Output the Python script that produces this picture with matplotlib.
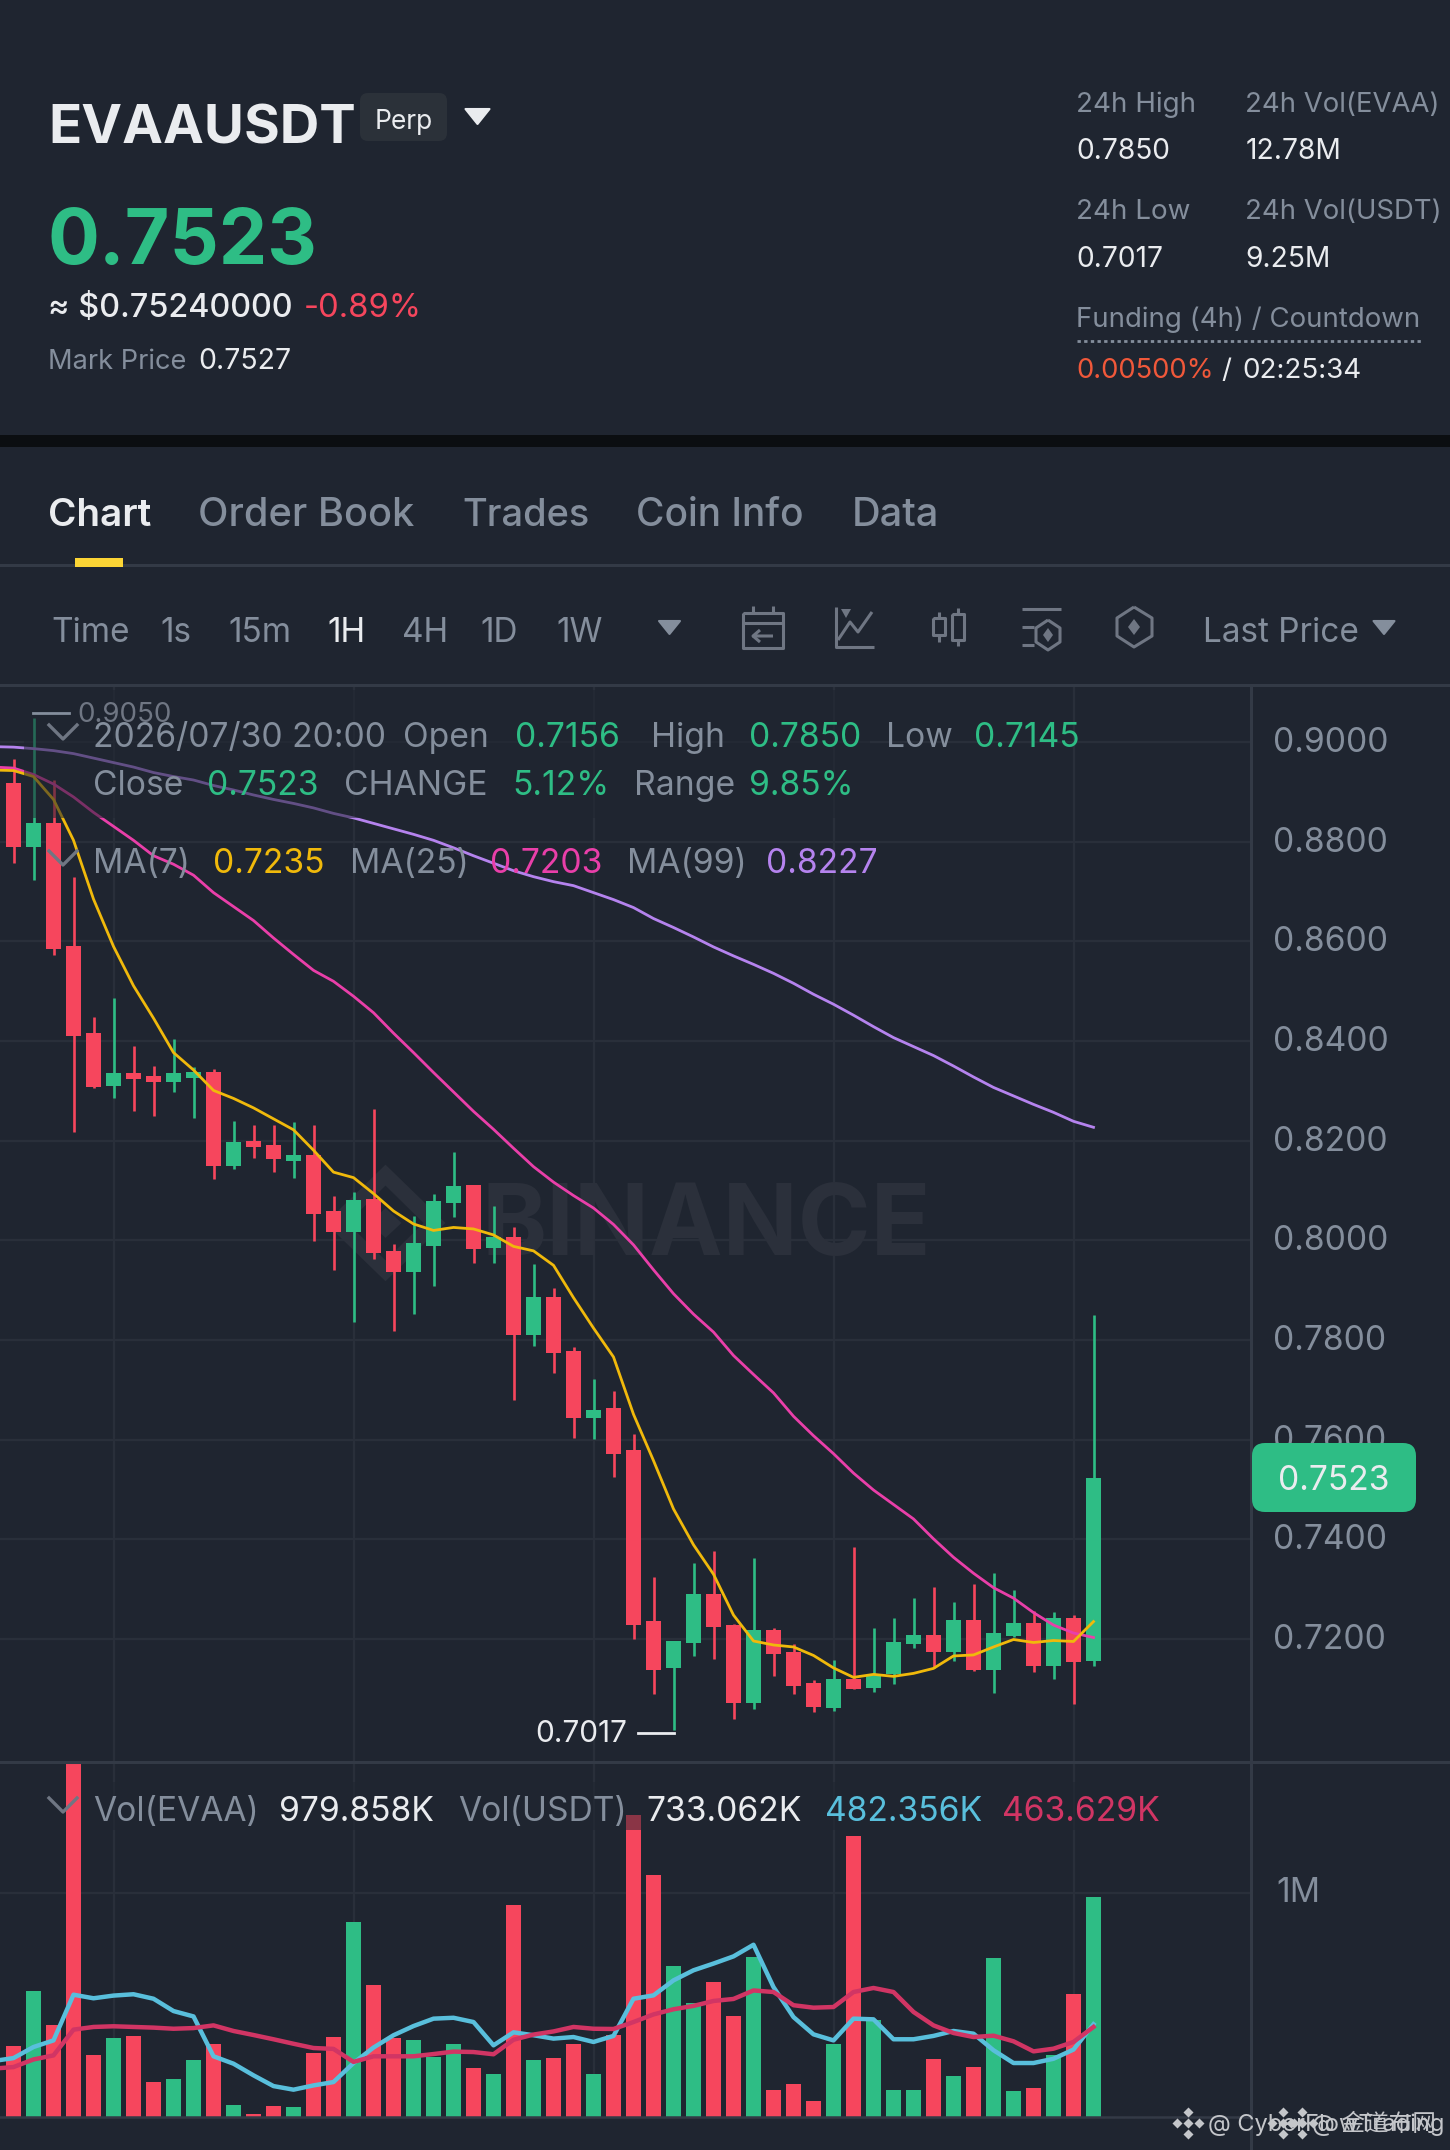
import matplotlib
matplotlib.use('Agg')
import matplotlib.pyplot as plt
import numpy as np
from matplotlib.patches import FancyBboxPatch, Polygon, Rectangle

plt.rcParams['font.family'] = ['Inter', 'Noto Sans CJK SC', 'DejaVu Sans']

# candles, one per hour
opens = [.8918, .8790, .8837, .8590, .8417, .8309, .8336, .8330, .8318, .8326, .8337, .8150, .8200, .8192,
         .8160, .8171, .8059, .8017, .8084, .7979, .7936, .7989, .8075, .8111, .7985, .8007, .7811, .7886,
         .7779, .7644, .7663, .7579, .7237, .7141, .7191, .7290, .7229, .7072, .7219, .7174, .7111, .7061,
         .7120, .7101, .7129, .7190, .7209, .7173, .7239, .7137, .7206, .7232, .7145, .7242, .7156]
highs = [.8966, .9049, .8924, .8729, .8449, .8487, .8390, .8351, .8405, .8348, .8344, .8240, .8231, .8231,
         .8237, .8231, .8090, .8097, .8264, .7993, .8049, .8094, .8178, .8111, .8070, .8026, .7953, .7905,
         .7787, .7722, .7697, .7611, .7324, .7195, .7353, .7376, .7231, .7363, .7222, .7189, .7118, .7158,
         .7384, .7223, .7242, .7282, .7305, .7275, .7310, .7332, .7298, .7257, .7255, .7249, .7850]
lows = [.8757, .8724, .8572, .8218, .8306, .8285, .8259, .8250, .8298, .8245, .8124, .8144, .8166, .8137,
        .8125, .7998, .7940, .7836, .7962, .7819, .7852, .7909, .8046, .7955, .7955, .7680, .7789, .7734,
        .7603, .7601, .7525, .7201, .7090, .7017, .7165, .7160, .7040, .7060, .7126, .7090, .7053, .7056,
        .7099, .7093, .7109, .7181, .7142, .7156, .7136, .7092, .7205, .7133, .7120, .7070, .7145]
closes = [.8790, .8837, .8585, .8411, .8307, .8336, .8324, .8318, .8336, .8337, .8150, .8198, .8188, .8163,
          .8171, .8053, .8017, .8081, .7974, .7937, .7994, .8079, .8110, .7983, .8007, .7810, .7886, .7774,
          .7643, .7660, .7572, .7229, .7138, .7195, .7291, .7224, .7072, .7219, .7169, .7105, .7063, .7120,
          .7099, .7128, .7194, .7209, .7174, .7239, .7138, .7212, .7232, .7145, .7242, .7153, .7523]

# moving averages, first value belongs to the candle left of the screen
ma7 = [.8944, .8943, .8931, .8885, .8803, .8685, .8590, .8511, .8446, .8377, .8342, .8301, .8285, .8266,
       .8244, .8222, .8181, .8137, .8126, .8094, .8059, .8033, .8020, .8026, .8023, .8011, .7988, .7979,
       .7950, .7885, .7824, .7766, .7651, .7558, .7461, .7389, .7330, .7248, .7196, .7188, .7184, .7167,
       .7142, .7123, .7129, .7125, .7131, .7141, .7166, .7168, .7184, .7199, .7193, .7197, .7195, .7235]
ma25 = [.8950, .8948, .8935, .8916, .8890, .8859, .8831, .8803, .8772, .8755, .8733, .8698, .8670, .8642,
        .8607, .8574, .8542, .8520, .8490, .8457, .8416, .8377, .8337, .8298, .8259, .8223, .8185, .8148,
        .8117, .8090, .8065, .8032, .7991, .7941, .7893, .7852, .7816, .7769, .7731, .7694, .7647, .7608,
        .7572, .7533, .7499, .7470, .7441, .7401, .7364, .7332, .7303, .7282, .7253, .7228, .7212, .7203]
ma99 = [.8991, .8990, .8987, .8983, .8977, .8968, .8959, .8950, .8939, .8931, .8924, .8913, .8904, .8894,
        .8885, .8877, .8868, .8857, .8848, .8837, .8826, .8815, .8803, .8788, .8772, .8757, .8742, .8730,
        .8720, .8712, .8698, .8684, .8668, .8646, .8628, .8609, .8589, .8571, .8554, .8536, .8516, .8494,
        .8474, .8452, .8429, .8407, .8389, .8371, .8350, .8328, .8307, .8290, .8273, .8257, .8239, .8227]

# volume in millions
volumes = [.318, .5625, .409, 1.577, .275, .354, .360, .158, .170, .253, .327, .055, .013, .049, .046, .287,
           .359, .871, .591, .353, .345, .268, .327, .220, .193, .945, .254, .263, .327, .193, .365, 1.347,
           1.079, .674, .509, .603, .451, .714, .122, .149, .070, .324, 1.253, .432, .119, .119, .260, .182,
           .225, .711, .115, .128, .275, .551, .980]
vol_ma_a = [.250, .263, .3125, .342, .546, .530, .542, .548, .528, .473, .449, .271, .238, .186, .138, .122,
            .141, .156, .241, .310, .365, .406, .439, .443, .424, .320, .378, .365, .350, .357, .335, .362,
            .528, .543, .610, .655, .685, .717, .769, .580, .446, .369, .342, .439, .436, .347, .347, .362,
            .384, .372, .298, .241, .241, .260, .301, .414]
vol_ma_b = [.216, .223, .257, .275, .390, .402, .405, .402, .399, .394, .397, .409, .384, .366, .347, .327,
            .308, .304, .246, .271, .271, .271, .281, .292, .290, .280, .345, .368, .382, .402, .394, .393,
            .424, .458, .481, .496, .518, .527, .565, .558, .499, .488, .491, .558, .576, .558, .469, .409,
            .375, .357, .363, .338, .293, .305, .335, .402]

price_ticks = [.90, .88, .86, .84, .82, .80, .78, .76, .74, .72]
hour_grid = [5, 17, 29, 41, 53]

BG = '#1f2530'
GRID = '#292f3a'
LINE = '#333a46'
GREEN = '#2ebd85'
RED = '#f6465d'
GREY = '#848e9c'
WHITE = '#eaecef'
MARK = '#2b303b'
W, H = 1450, 2150


def px_axes(fig, x0, y0, x1, y1, **kw):
    return fig.add_axes([x0 / W, 1 - y1 / H, (x1 - x0) / W, (y1 - y0) / H], **kw)


fig = plt.figure(figsize=(W / 100, H / 100), dpi=100, facecolor=BG)

# --- price pane
ax = px_axes(fig, 0, 686, 1251, 1761, facecolor='none')
ax.set_xlim(-0.675, 61.875)
ax.set_ylim(0.72 - 122 / 4982.5, 0.72 + 953 / 4982.5)
ax.axis('off')
for p in price_ticks:
    ax.axhline(p, color=GRID, lw=1.6, zorder=1)
for g in hour_grid:
    ax.axvline(g, color=GRID, lw=1.6, zorder=1)

idx = np.arange(len(opens))
colors = [GREEN if c >= o else RED for o, c in zip(opens, closes)]
ax.vlines(idx, lows, highs, colors=colors, lw=1.9, zorder=3)
ax.bar(idx, np.abs(np.array(closes) - np.array(opens)), bottom=np.minimum(opens, closes),
       width=0.715, color=colors, zorder=3)
ma_x = np.arange(-1, len(opens))
ax.plot(ma_x, ma99, color='#b583ee', lw=2.0, zorder=4, solid_joinstyle='round')
ax.plot(ma_x, ma25, color='#e93fa9', lw=2.0, zorder=4, solid_joinstyle='round')
ax.plot(ma_x, ma7, color='#f0b90b', lw=2.0, zorder=5, solid_joinstyle='round')

# watermark goes behind the candles
ax.text(23.4, 0.72 + (1639 - 1255) / 4982.5, 'BINANCE', color=MARK, fontsize=71, fontweight='bold',
        ha='left', va='baseline', zorder=2)
ax.add_patch(Polygon([(18.6, .8152), (21.6, .8035), (18.6, .7918), (15.6, .8035)], fc=MARK, ec='none', zorder=2))
ax.add_patch(Polygon([(18.6, .8110), (20.5, .8035), (18.6, .7960), (16.7, .8035)], fc=BG, ec='none', zorder=2))
ax.add_patch(Polygon([(18.6, .8065), (19.4, .8035), (18.6, .8005), (17.8, .8035)], fc=MARK, ec='none', zorder=2))

# --- volume pane
vx = px_axes(fig, 0, 1763, 1251, 2117, facecolor='none')
vx.set_xlim(-0.675, 61.875)
vx.set_ylim(0, 354 / 224)
vx.axis('off')
vx.axhline(1.0, color=GRID, lw=1.6, zorder=1)
for g in hour_grid:
    vx.axvline(g, color=GRID, lw=1.6, zorder=1)
vx.bar(idx, volumes, width=0.715, color=colors, zorder=3)
vx.plot(ma_x, vol_ma_a, color='#59bfdc', lw=3.2, zorder=4)
vx.plot(ma_x, vol_ma_b, color='#d13564', lw=3.2, zorder=5)

# --- everything else in pixel coordinates
ui = px_axes(fig, 0, 0, W, H, facecolor='none')
ui.set_xlim(0, W)
ui.set_ylim(H, 0)
ui.axis('off')


def txt(x, y, s, color=GREY, size=24.2, weight='normal', ha='left', zorder=10):
    return ui.text(x, y, s, color=color, fontsize=size, fontweight=weight, ha=ha, va='baseline', zorder=zorder)


def rrect(x0, y0, x1, y1, color, r=8, zorder=2):
    ui.add_patch(FancyBboxPatch((x0 + r, y0 + r), x1 - x0 - 2 * r, y1 - y0 - 2 * r,
                                boxstyle=f'round,pad={r},rounding_size={r}', fc=color, ec='none', zorder=zorder))


def tri(cx, y0, w, h, color=GREY):
    ui.add_patch(Polygon([(cx - w / 2, y0), (cx + w / 2, y0), (cx, y0 + h)], closed=True, fc=color, ec=color,
                         lw=1.5, joinstyle='round', zorder=10))


def chevron(cx, cy):
    ui.plot([cx - 14, cx, cx + 14], [cy - 7, cy + 7, cy - 7], color='#6f7683', lw=2.4, zorder=10)


def strokes(paths, lw=2.2, color='#6f7683'):
    for xs, ys in paths:
        ui.plot(xs, ys, color=color, lw=lw, solid_capstyle='butt', zorder=10)


# separators
ui.add_patch(Rectangle((0, 435), W, 12, fc='#0b0e11', ec='none', zorder=2))
ui.plot([0, W], [565, 565], color=LINE, lw=2.2, zorder=2)
ui.plot([0, W], [685, 685], color=LINE, lw=2.2, zorder=2)
ui.plot([0, W], [1762, 1762], color=LINE, lw=2.2, zorder=2)
ui.plot([0, 1251], [2117, 2117], color=LINE, lw=1.8, zorder=2)
ui.plot([1251, 1251], [686, H], color=LINE, lw=2.2, zorder=2)

# header
txt(48, 144, 'EVAAUSDT', '#eaecef', 39.4, 'bold')
rrect(360, 93, 447, 141, '#2b3139')
txt(404, 129, 'Perp', WHITE, 19, ha='center')
tri(477.5, 109, 24, 15, WHITE)
txt(48, 264, '0.7523', GREEN, 55.5, 'bold')
txt(48, 317, '≈ $0.75240000', WHITE, 23.3, 'medium')
txt(304, 317, '-0.89%', RED, 23.6)
txt(48, 369, 'Mark Price', GREY, 19.6)
txt(198, 369, '0.7527', WHITE, 20.5)

txt(1076, 112, '24h High', GREY, 20)
txt(1245, 112, '24h Vol(EVAA)', GREY, 19.8)
txt(1076, 159, '0.7850', WHITE, 20.3)
txt(1246, 159, '12.78M', WHITE, 20.3)
txt(1076, 219, '24h Low', GREY, 20)
txt(1245, 219, '24h Vol(USDT)', GREY, 19.8)
txt(1076, 267, '0.7017', WHITE, 20.3)
txt(1245, 267, '9.25M', WHITE, 20.3)
txt(1076, 327, 'Funding (4h) / Countdown', GREY, 19.9)
ui.plot([1077, 1422], [341, 341], color=GREY, lw=2, dashes=(1.2, 1.2), zorder=10)
txt(1076, 378, '0.00500%', '#f0583a', 19.7)
txt(1221, 378, '/', WHITE, 20)
txt(1242, 378, '02:25:34', WHITE, 20)

# tabs
txt(48, 526, 'Chart', WHITE, 27.8, 'semibold')
for x, s, size in [(198, 'Order Book', 28.6), (462, 'Trades', 27.4), (636, 'Coin Info', 28), (852, 'Data', 28.6)]:
    txt(x, 526, s, GREY, size, 'medium')
ui.add_patch(Rectangle((75, 558), 48, 9, fc='#fcd535', ec='none', zorder=3))

# toolbar
for x, s, c in [(51, 'Time', GREY), (160, '1s', GREY), (228, '15m', GREY), (327, '1H', WHITE), (402, '4H', GREY),
                (480, '1D', GREY), (556, '1W', GREY), (1203, 'Last Price', GREY)]:
    txt(x, 642, s, c, 24)
tri(669.5, 621, 21, 13)
tri(1384, 621, 21, 13)

# toolbar icons
strokes([([743, 783, 783, 743, 743], [613, 613, 648, 648, 613]), ([743, 783], [623, 623]),
         ([753, 753], [606, 613]), ([773, 773], [606, 613]), ([773, 753, 760], [636, 636, 630]),
         ([753, 760], [636, 642])])
strokes([([836, 836, 874], [607, 647, 647]), ([838, 850, 858, 872], [640, 622, 632, 612])])
ui.add_patch(Polygon([(841, 609), (851, 609), (846, 618)], fc='#6f7683', ec='none', zorder=10))
strokes([([939, 939], [612, 618]), ([939, 939], [635, 642]), ([958, 958], [608, 614]), ([958, 958], [640, 646]),
         ([933, 945, 945, 933, 933], [618, 618, 635, 635, 618]),
         ([952, 964, 964, 952, 952], [614, 614, 640, 640, 614])])
strokes([([1022, 1061], [609, 609]), ([1022, 1034], [627, 627]), ([1022, 1034], [645, 645]),
         ([1048, 1060, 1060, 1048, 1036, 1036, 1048], [620, 628, 642, 650, 642, 628, 620])])
ui.add_patch(Polygon([(1048, 628), (1053, 635), (1048, 642), (1043, 635)], fc='#6f7683', ec='none', zorder=10))
strokes([([1134, 1152, 1152, 1134, 1117, 1117, 1134], [607, 618, 636, 647, 636, 618, 607])])
ui.add_patch(Polygon([(1134, 619), (1140, 627), (1134, 635), (1128, 627)], fc='#6f7683', ec='none', zorder=10))

# legend backings dim what sits under the text
ui.add_patch(Rectangle((24, 690), 846, 128, fc=BG, ec='none', alpha=0.55, zorder=6))
ui.add_patch(Rectangle((85, 1782), 1075, 48, fc=BG, ec='none', alpha=0.5, zorder=6))

# legend rows
ui.plot([33, 69], [713, 713], color=GREY, lw=2, zorder=7)
txt(77, 722, '0.9050', '#6f7683', 20, zorder=7)
chevron(63, 732)
chevron(63, 858)
chevron(63, 1805)
for x, s, c in [(93, '2026/07/30 20:00', GREY), (403, 'Open', GREY), (515, '0.7156', GREEN), (651, 'High', GREY),
                (749, '0.7850', GREEN), (886, 'Low', GREY), (974, '0.7145', GREEN)]:
    txt(x, 747, s, c)
for x, s, c in [(93, 'Close', GREY), (207, '0.7523', GREEN), (344, 'CHANGE', GREY), (512, '5.12%', GREEN),
                (634, 'Range', GREY), (749, '9.85%', GREEN)]:
    txt(x, 795, s, c)
for x, s, c in [(93, 'MA(7)', GREY), (213, '0.7235', '#f0b90b'), (350, 'MA(25)', GREY), (490, '0.7203', '#e93fa9'),
                (627, 'MA(99)', GREY), (766, '0.8227', '#b583ee')]:
    txt(x, 873, s, c)
for x, s, c in [(93, 'Vol(EVAA)', GREY), (279, '979.858K', WHITE), (458, 'Vol(USDT)', GREY), (646, '733.062K', WHITE),
                (825, '482.356K', '#59bfdc'), (1002, '463.629K', '#d13564')]:
    txt(x, 1821, s, c)

# price axis
for p in price_ticks:
    y = 1639 - (p - 0.72) * 4982.5
    txt(1273, y + 10, f'{p:.4f}', GREY)
txt(1276, 1902, '1M', GREY)
rrect(1252, 1443, 1416, 1512, GREEN, r=13, zorder=11)
txt(1334, 1490, '0.7523', WHITE, 24.2, ha='center', zorder=12)

# lowest price marker
txt(535, 1742, '0.7017', WHITE, 21.5)
ui.plot([638, 674], [1733, 1733], color=WHITE, lw=2, zorder=10)

# bottom right attribution
for cx, cy in [(1188, 2123), (1283, 2123), (1302, 2123)]:
    ui.scatter([cx, cx - 11, cx + 11, cx, cx], [cy, cy, cy, cy - 11, cy + 11], marker='D', s=26,
               color='#c4c6ca', zorder=12, linewidths=0)
txt(1208, 2131, '@ CyberFlowTrading', '#c4c6ca', 17, zorder=12)
txt(1312, 2131, '@ 金道布网', '#c4c6ca', 17, zorder=12)

fig.savefig('out.png', dpi=100, facecolor=BG)
